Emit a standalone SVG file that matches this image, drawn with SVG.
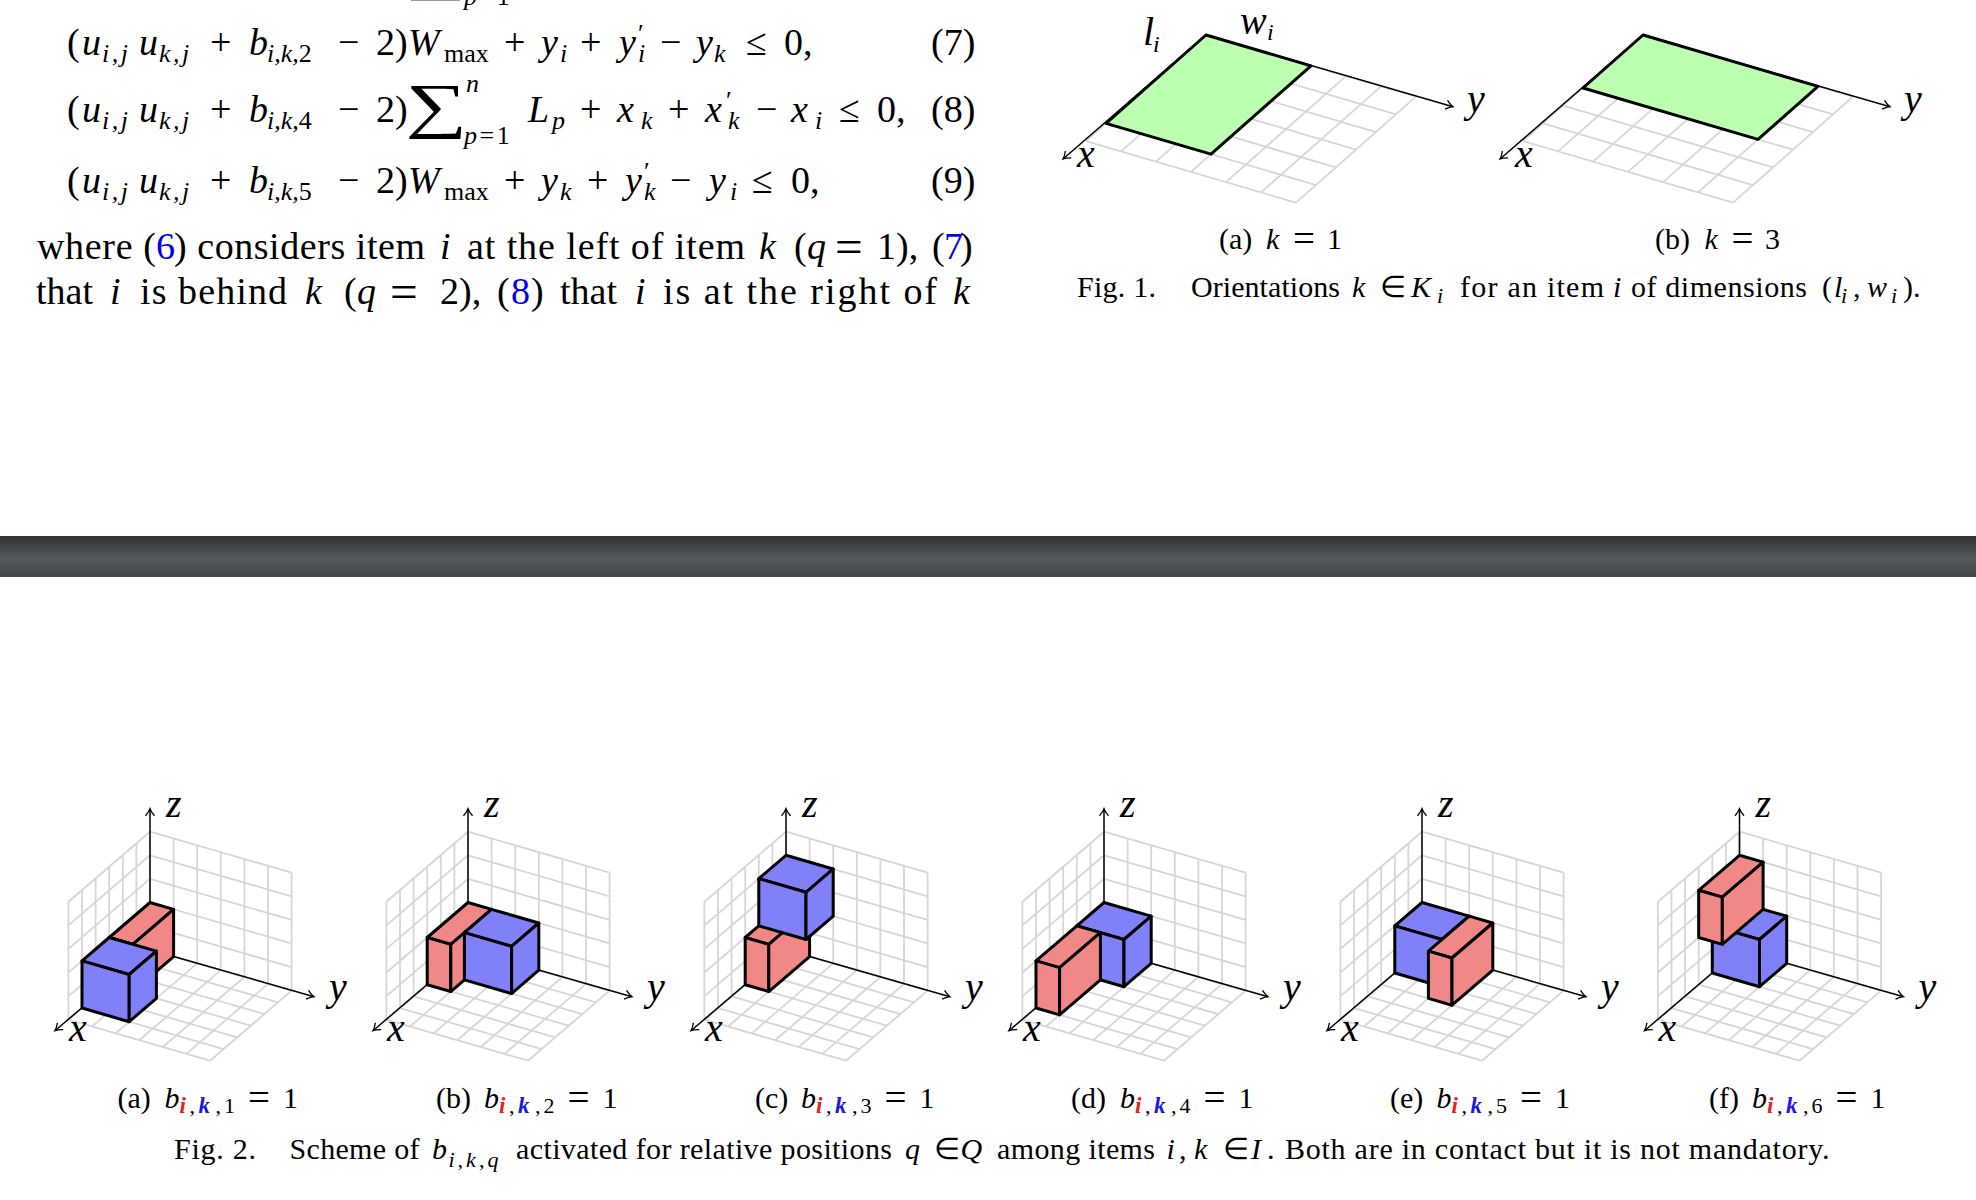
<svg xmlns="http://www.w3.org/2000/svg" width="1976" height="1200" viewBox="0 0 1976 1200">
<style>
text{font-family:"Liberation Serif","Times New Roman",serif;fill:#000;white-space:pre}
.b{font-size:38px}.c{font-size:30px}.a{font-size:40px;font-style:italic}
.m{font-style:italic}.s{font-size:26px}.s.m{letter-spacing:2.5px}.s2{font-size:22px}.s2.m{letter-spacing:3px}.bl{fill:#0000ee}
.e{font-size:1.3em}
.cr{fill:#e82020;font-style:italic;font-size:23px;font-weight:bold}.cb{fill:#1818e8;font-style:italic;font-size:23px;font-weight:bold}
.g{fill:none;stroke:#d6d6d6;stroke-width:1.8;vector-effect:non-scaling-stroke}
.ax{fill:none;stroke:#000;stroke-width:1.5;marker-end:url(#arr)}
polygon{stroke:#000;stroke-width:3;stroke-linejoin:round}
.red{fill:#f08888}.blue{fill:#8080f8}.green{fill:#bdffb0}
</style>
<defs>
<linearGradient id="bar" x1="0" y1="0" x2="0" y2="1"><stop offset="0" stop-color="#303234"/><stop offset=".55" stop-color="#55595c"/><stop offset="1" stop-color="#434649"/></linearGradient>
<marker id="arr" markerUnits="userSpaceOnUse" markerWidth="14" markerHeight="14" refX="10" refY="7" orient="auto"><path d="M3,2.5Q7,6 10,7Q7,8 3,11.5" fill="none" stroke="#000" stroke-width="1.3"/></marker>
<path id="g66" class="g" d="M0,0H6M0,1H6M0,2H6M0,3H6M0,4H6M0,5H6M0,6H6M0,0V6M1,0V6M2,0V6M3,0V6M4,0V6M5,0V6M6,0V6"/>
<path id="g65" class="g" d="M0,0H6M0,1H6M0,2H6M0,3H6M0,4H6M0,5H6M0,0V5M1,0V5M2,0V5M3,0V5M4,0V5M5,0V5M6,0V5"/>
<g id="grid3">
<use href="#g66" transform="matrix(23.6 6.83 -13.6 11.67 0 0)"/>
<use href="#g65" transform="matrix(23.6 6.83 0 -23.6 0 0)"/>
<use href="#g65" transform="matrix(-13.6 11.67 0 -23.6 0 0)"/>
</g>
<g id="axes3"><path class="ax" d="M0,0V-141"/><path class="ax" d="M0,0L164,47"/><path class="ax" d="M0,0L-95,81"/></g>
<g id="grid2"><use href="#g66" transform="matrix(35 10.28 -20 17.67 0 0)"/></g>
<g id="axes2"><path class="ax" d="M0,0L247,71.7"/><path class="ax" d="M0,0L-143,124"/></g>
<g id="red1"><polygon points="0,-47.2 23.6,-40.37 -17.2,-5.37 -40.8,-12.2"/><polygon points="-40.8,-12.2 -17.2,-5.37 -17.2,41.83 -40.8,35"/><polygon points="23.6,-40.37 23.6,6.83 -17.2,41.83 -17.2,-5.37"/></g>
<g id="blue0"><polygon points="0,-47.2 47.2,-33.53 20,-10.2 -27.2,-23.87"/><polygon points="-27.2,-23.87 20,-10.2 20,37 -27.2,23.33"/><polygon points="47.2,-33.53 47.2,13.67 20,37 20,-10.2"/></g>
</defs>
<rect width="1976" height="1200" fill="#fff"/>
<rect y="536" width="1976" height="41" fill="url(#bar)"/>

<g id="equations" class="b">
<rect x="411" y="0" width="49" height="1" fill="#999"/>
<text class="s m" x="464" y="5">p<tspan font-style="normal">=1</tspan></text>
<text y="55"><tspan x="67">(</tspan><tspan x="82" class="m">u</tspan><tspan x="102" y="62" class="s m">i,j</tspan><tspan x="139" y="55" class="m">u</tspan><tspan x="159" y="62" class="s m">k,j</tspan><tspan x="210" y="55">+</tspan><tspan x="249" class="m">b</tspan><tspan x="267" y="62" class="s"><tspan class="m">i,k,</tspan>2</tspan><tspan x="338" y="55">−</tspan><tspan x="376">2)</tspan><tspan x="408" class="m">W</tspan><tspan x="444" y="62" class="s">max</tspan><tspan x="504" y="55">+</tspan><tspan x="541" class="m">y</tspan><tspan x="560" y="62" class="s m">i</tspan><tspan x="580" y="55">+</tspan><tspan x="619" class="m">y</tspan><tspan x="638" y="42" class="s">′</tspan><tspan x="638" y="62" class="s m">i</tspan><tspan x="660" y="55">−</tspan><tspan x="696" class="m">y</tspan><tspan x="714" y="62" class="s m">k</tspan><tspan x="746" y="55">≤</tspan><tspan x="784">0,</tspan><tspan x="931">(7)</tspan></text>
<text y="122"><tspan x="67">(</tspan><tspan x="82" class="m">u</tspan><tspan x="102" y="129" class="s m">i,j</tspan><tspan x="139" y="122" class="m">u</tspan><tspan x="159" y="129" class="s m">k,j</tspan><tspan x="210" y="122">+</tspan><tspan x="249" class="m">b</tspan><tspan x="267" y="129" class="s"><tspan class="m">i,k,</tspan>4</tspan><tspan x="338" y="122">−</tspan><tspan x="376">2)</tspan><tspan x="466" y="92" class="s m">n</tspan><tspan x="464" y="144" class="s m">p<tspan font-style="normal">=1</tspan></tspan><tspan x="528" y="122" class="m">L</tspan><tspan x="552" y="129" class="s m">p</tspan><tspan x="580" y="122">+</tspan><tspan x="617" class="m">x</tspan><tspan x="641" y="129" class="s m">k</tspan><tspan x="668" y="122">+</tspan><tspan x="705" class="m">x</tspan><tspan x="726" y="109" class="s">′</tspan><tspan x="728" y="129" class="s m">k</tspan><tspan x="756" y="122">−</tspan><tspan x="791" class="m">x</tspan><tspan x="815" y="129" class="s m">i</tspan><tspan x="839" y="122">≤</tspan><tspan x="877">0,</tspan><tspan x="931">(8)</tspan></text>
<text transform="translate(405.5,125.5) scale(1.42,1)" font-size="61">∑</text>
<text y="193"><tspan x="67">(</tspan><tspan x="82" class="m">u</tspan><tspan x="102" y="200" class="s m">i,j</tspan><tspan x="139" y="193" class="m">u</tspan><tspan x="159" y="200" class="s m">k,j</tspan><tspan x="210" y="193">+</tspan><tspan x="249" class="m">b</tspan><tspan x="267" y="200" class="s"><tspan class="m">i,k,</tspan>5</tspan><tspan x="338" y="193">−</tspan><tspan x="376">2)</tspan><tspan x="408" class="m">W</tspan><tspan x="444" y="200" class="s">max</tspan><tspan x="504" y="193">+</tspan><tspan x="541" class="m">y</tspan><tspan x="560" y="200" class="s m">k</tspan><tspan x="587" y="193">+</tspan><tspan x="625" class="m">y</tspan><tspan x="644" y="180" class="s">′</tspan><tspan x="644" y="200" class="s m">k</tspan><tspan x="670" y="193">−</tspan><tspan x="709" class="m">y</tspan><tspan x="730" y="200" class="s m">i</tspan><tspan x="752" y="193">≤</tspan><tspan x="791">0,</tspan><tspan x="931">(9)</tspan></text>
</g>

<g id="paragraph" class="b">
<text x="37" y="259" textLength="119">where (</text><text x="156" y="259" class="bl">6</text><text x="174" y="259" textLength="251">) considers item</text><text x="440" y="259" class="m">i</text><text x="467" y="259" textLength="278">at the left of item</text><text x="759" y="259" class="m">k</text><text x="794" y="259">(</text><text x="807" y="259" class="m">q</text><text x="835" y="263" class="e">=</text><text x="877" y="259">1),</text><text x="932" y="259">(</text><text x="944" y="259" class="bl">7</text><text x="960" y="259">)</text>
<text x="36" y="304">that</text><text x="110" y="304" class="m">i</text><text x="140" y="304" textLength="147">is behind</text><text x="305" y="304" class="m">k</text><text x="344" y="304">(</text><text x="357" y="304" class="m">q</text><text x="390" y="308" class="e">=</text><text x="440" y="304">2),</text><text x="497" y="304">(</text><text x="511" y="304" class="bl">8</text><text x="531" y="304">)</text><text x="560" y="304">that</text><text x="635" y="304" class="m">i</text><text x="663" y="304" textLength="274">is at the right of</text><text x="953" y="304" class="m">k</text>
</g>

<g id="connectors">
<g transform="translate(1206,35)"><use href="#grid2"/><use href="#axes2"/></g>
<g transform="translate(1643,35)"><use href="#grid2"/><use href="#axes2"/></g>
<g transform="translate(150,949.7)"><use href="#grid3"/><use href="#axes3"/></g>
<g transform="translate(468,949.7)"><use href="#grid3"/><use href="#axes3"/></g>
<g transform="translate(786,949.7)"><use href="#grid3"/><use href="#axes3"/></g>
<g transform="translate(1104,949.7)"><use href="#grid3"/><use href="#axes3"/></g>
<g transform="translate(1422,949.7)"><use href="#grid3"/><use href="#axes3"/></g>
<g transform="translate(1739.5,949.7)"><use href="#grid3"/><use href="#axes3"/></g>
</g>

<g id="fig1a" class="green" transform="translate(1206,35)"><polygon points="0,0 105,30.83 5,119.17 -100,88.33"/></g>
<g id="fig1b" class="green" transform="translate(1643,35)"><polygon points="0,0 175,51.4 115,104.4 -60,53"/></g>

<g id="fig1-labels" class="a">
<text x="1143" y="45">l</text><text x="1153" y="52" font-size="24">i</text>
<text x="1240" y="34">w</text><text x="1267" y="40" font-size="24">i</text>
<text x="1467" y="112">y</text><text x="1077" y="167">x</text>
<text x="1904" y="112">y</text><text x="1515" y="167">x</text>
</g>
<g id="fig1-captions" class="c">
<text x="1219" y="249">(a)</text><text x="1266" y="249" class="m">k</text><text x="1293" y="252" class="e">=</text><text x="1327" y="249">1</text>
<text x="1655" y="249">(b)</text><text x="1704.5" y="249" class="m">k</text><text x="1731.5" y="252" class="e">=</text><text x="1765" y="249">3</text>
<text x="1077" y="297" textLength="79">Fig. 1.</text><text x="1191" y="297" textLength="149">Orientations</text><text x="1352" y="297" class="m">k</text><text x="1380" y="297">∈</text><text x="1411" y="297" class="m">K</text><text x="1437" y="303" class="s2 m">i</text><text x="1460" y="297" textLength="144">for an item</text><text x="1613" y="297" class="m">i</text><text x="1631" y="297" textLength="176">of dimensions</text><text x="1822" y="297">(</text><text x="1834" y="297" class="m">l</text><text x="1841" y="303" class="s2 m">i</text><text x="1853" y="297">,</text><text x="1867" y="297" class="m">w</text><text x="1891" y="303" class="s2 m">i</text><text x="1903" y="297">).</text>
</g>

<g id="fig2a" transform="translate(150,949.7)">
<g class="red"><use href="#red1"/></g>
<g class="blue"><polygon points="-40.8,-12.2 6.4,1.47 -20.8,24.8 -68,11.13"/><polygon points="-68,11.13 -20.8,24.8 -20.8,72 -68,58.33"/><polygon points="6.4,1.47 6.4,48.67 -20.8,72 -20.8,24.8"/></g>
<g class="a"><text x="16" y="-133">z</text><text x="179" y="50">y</text><text x="-81" y="91">x</text></g>
</g>
<g id="fig2b" transform="translate(468,949.7)">
<g class="red"><use href="#red1"/></g>
<g class="blue"><polygon points="23.6,-40.37 70.8,-26.7 43.6,-3.37 -3.6,-17.03"/><polygon points="-3.6,-17.03 43.6,-3.37 43.6,43.83 -3.6,30.17"/><polygon points="70.8,-26.7 70.8,20.5 43.6,43.83 43.6,-3.37"/></g>
<g class="a"><text x="16" y="-133">z</text><text x="179" y="50">y</text><text x="-81" y="91">x</text></g>
</g>
<g id="fig2c" transform="translate(786,949.7)">
<g class="red"><use href="#red1"/></g>
<g class="blue"><polygon points="0,-94.4 47.2,-80.73 20,-57.4 -27.2,-71.07"/><polygon points="-27.2,-71.07 20,-57.4 20,-10.2 -27.2,-23.87"/><polygon points="47.2,-80.73 47.2,-33.53 20,-10.2 20,-57.4"/></g>
<g class="a"><text x="16" y="-133">z</text><text x="179" y="50">y</text><text x="-81" y="91">x</text></g>
</g>
<g id="fig2d" transform="translate(1104,949.7)">
<g class="blue"><use href="#blue0"/></g>
<g class="red"><polygon points="-27.2,-23.87 -3.6,-17.03 -44.4,17.97 -68,11.13"/><polygon points="-68,11.13 -44.4,17.97 -44.4,65.17 -68,58.33"/><polygon points="-3.6,-17.03 -3.6,30.17 -44.4,65.17 -44.4,17.97"/></g>
<g class="a"><text x="16" y="-133">z</text><text x="179" y="50">y</text><text x="-81" y="91">x</text></g>
</g>
<g id="fig2e" transform="translate(1422,949.7)">
<g class="blue"><use href="#blue0"/></g>
<g class="red"><polygon points="47.2,-33.53 70.8,-26.7 30,8.3 6.4,1.47"/><polygon points="6.4,1.47 30,8.3 30,55.5 6.4,48.67"/><polygon points="70.8,-26.7 70.8,20.5 30,55.5 30,8.3"/></g>
<g class="a"><text x="16" y="-133">z</text><text x="179" y="50">y</text><text x="-81" y="91">x</text></g>
</g>
<g id="fig2f" transform="translate(1739.5,949.7)">
<g class="blue"><use href="#blue0"/></g>
<g class="red"><polygon points="0,-94.4 23.6,-87.57 -17.2,-52.57 -40.8,-59.4"/><polygon points="-40.8,-59.4 -17.2,-52.57 -17.2,-5.37 -40.8,-12.2"/><polygon points="23.6,-87.57 23.6,-40.37 -17.2,-5.37 -17.2,-52.57"/></g>
<g class="a"><text x="16" y="-133">z</text><text x="179" y="50">y</text><text x="-81" y="91">x</text></g>
</g>

<g id="fig2-captions" class="c">
<g transform="translate(164.5,1108)"><text x="-47">(a)</text><text class="m">b</text><text x="15" y="5" class="cr">i</text><text x="25" y="5" class="s2">,</text><text x="34" y="5" class="cb">k</text><text x="51" y="5" class="s2">,</text><text x="59.5" y="5" class="s2">1</text><text x="83.5" y="3" class="e">=</text><text x="118.5">1</text></g>
<g transform="translate(484,1108)"><text x="-48">(b)</text><text class="m">b</text><text x="15" y="5" class="cr">i</text><text x="25" y="5" class="s2">,</text><text x="34" y="5" class="cb">k</text><text x="51" y="5" class="s2">,</text><text x="59.5" y="5" class="s2">2</text><text x="83.5" y="3" class="e">=</text><text x="118.5">1</text></g>
<g transform="translate(801,1108)"><text x="-46">(c)</text><text class="m">b</text><text x="15" y="5" class="cr">i</text><text x="25" y="5" class="s2">,</text><text x="34" y="5" class="cb">k</text><text x="51" y="5" class="s2">,</text><text x="59.5" y="5" class="s2">3</text><text x="83.5" y="3" class="e">=</text><text x="118.5">1</text></g>
<g transform="translate(1120,1108)"><text x="-49">(d)</text><text class="m">b</text><text x="15" y="5" class="cr">i</text><text x="25" y="5" class="s2">,</text><text x="34" y="5" class="cb">k</text><text x="51" y="5" class="s2">,</text><text x="59.5" y="5" class="s2">4</text><text x="83.5" y="3" class="e">=</text><text x="118.5">1</text></g>
<g transform="translate(1436.5,1108)"><text x="-46.5">(e)</text><text class="m">b</text><text x="15" y="5" class="cr">i</text><text x="25" y="5" class="s2">,</text><text x="34" y="5" class="cb">k</text><text x="51" y="5" class="s2">,</text><text x="59.5" y="5" class="s2">5</text><text x="83.5" y="3" class="e">=</text><text x="118.5">1</text></g>
<g transform="translate(1752,1108)"><text x="-43">(f)</text><text class="m">b</text><text x="15" y="5" class="cr">i</text><text x="25" y="5" class="s2">,</text><text x="34" y="5" class="cb">k</text><text x="51" y="5" class="s2">,</text><text x="59.5" y="5" class="s2">6</text><text x="83.5" y="3" class="e">=</text><text x="118.5">1</text></g>
<text x="174" y="1159" textLength="82">Fig. 2.</text><text x="289.5" y="1159" textLength="130">Scheme of</text><text x="432" y="1159" class="m">b</text><text x="448.5" y="1167" class="s2 m">i,k,q</text><text x="516" y="1159" textLength="376">activated for relative positions</text><text x="905" y="1159" class="m">q</text><text x="934" y="1159">∈</text><text x="960.6" y="1159" class="m">Q</text><text x="997" y="1159" textLength="158">among items</text><text x="1166.5" y="1159" class="m">i</text><text x="1179" y="1159">,</text><text x="1194" y="1159" class="m">k</text><text x="1223" y="1159">∈</text><text x="1251" y="1159" class="m">I</text><text x="1267" y="1159">.</text><text x="1285" y="1159" textLength="544.5">Both are in contact but it is not mandatory.</text>
</g>
</svg>
